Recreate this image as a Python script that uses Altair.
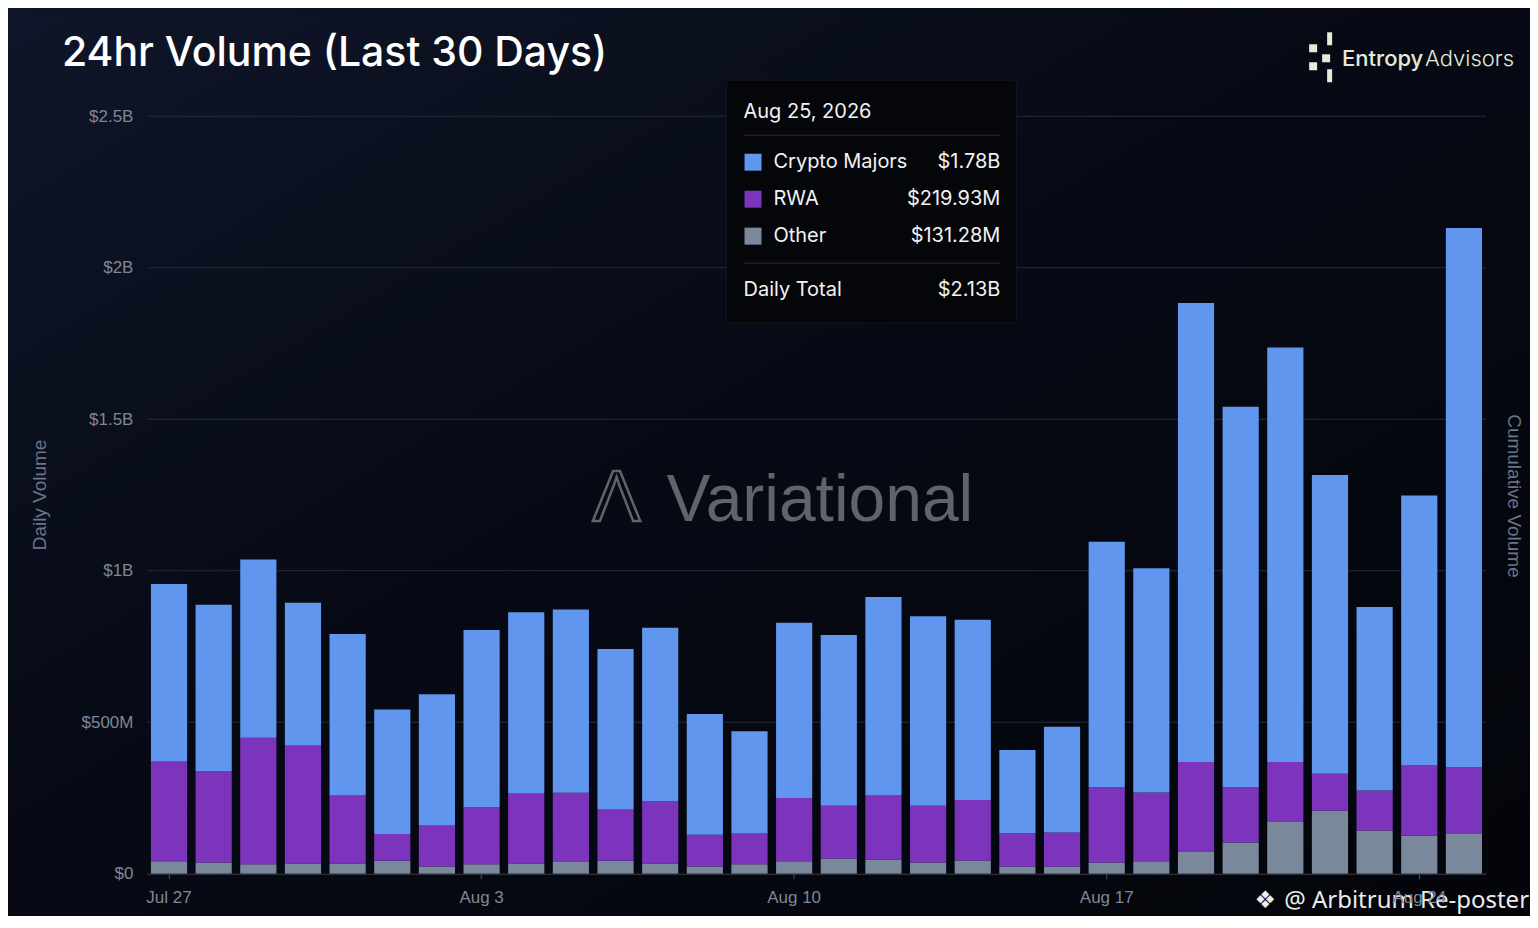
import altair as alt
import pandas as pd

# ---------------- data (values in $ billions) ----------------
dates = ["Jul 27", "Jul 28", "Jul 29", "Jul 30", "Jul 31",
         "Aug 1", "Aug 2", "Aug 3", "Aug 4", "Aug 5", "Aug 6", "Aug 7", "Aug 8", "Aug 9",
         "Aug 10", "Aug 11", "Aug 12", "Aug 13", "Aug 14", "Aug 15", "Aug 16",
         "Aug 17", "Aug 18", "Aug 19", "Aug 20", "Aug 21", "Aug 22", "Aug 23",
         "Aug 24", "Aug 25"]
year = 2026
tick_dates = ["Jul 27", "Aug 3", "Aug 10", "Aug 17", "Aug 24"]

series = ["Crypto Majors", "RWA", "Other"]
colors = ["#6196ee", "#7d34bd", "#7a889b"]

crypto_majors = [0.586, 0.550, 0.588, 0.471, 0.533, 0.411, 0.433, 0.585, 0.598, 0.605,
                 0.530, 0.573, 0.398, 0.337, 0.578, 0.564, 0.655, 0.626, 0.595, 0.274,
                 0.349, 0.811, 0.740, 1.515, 1.256, 1.368, 0.986, 0.605, 0.889, 1.78]
rwa = [0.329, 0.301, 0.418, 0.389, 0.224, 0.088, 0.135, 0.188, 0.231, 0.228,
       0.169, 0.205, 0.105, 0.102, 0.209, 0.174, 0.212, 0.187, 0.199, 0.110,
       0.112, 0.248, 0.227, 0.297, 0.182, 0.198, 0.122, 0.132, 0.234, 0.21993]
other = [0.041, 0.037, 0.031, 0.034, 0.034, 0.043, 0.024, 0.031, 0.034, 0.039,
         0.043, 0.034, 0.024, 0.031, 0.041, 0.050, 0.046, 0.037, 0.044, 0.024,
         0.024, 0.037, 0.041, 0.072, 0.103, 0.171, 0.208, 0.143, 0.125, 0.13128]

y_ticks = [0, 0.5, 1, 1.5, 2, 2.5]

rows = []
for i, d in enumerate(dates):
    for name, vals, order in (("Other", other, 0), ("RWA", rwa, 1), ("Crypto Majors", crypto_majors, 2)):
        rows.append({"date": d, "series": name, "value": vals[i], "ord": order})
df = pd.DataFrame(rows)
grid_df = pd.DataFrame({"value": y_ticks[1:]})


def money(v):
    return f"${v:.2f}B" if v >= 1 else f"${v * 1000:.2f}M"


# ---------------- layout ----------------
W, H = 1340, 758
PAD = {"left": 139, "top": 108, "right": 44, "bottom": 42}
one = pd.DataFrame({"k": [0]})
AX = "#7f8797"
yscale = alt.Scale(domain=[0, 2.5], nice=False)
yaxis = alt.Axis(values=y_ticks, title=None, zindex=1,
                 labelExpr="datum.value == 0 ? '$0' : datum.value < 1 ? '$' + format(datum.value * 1000, 'd') + 'M' : '$' + format(datum.value, '~g') + 'B'",
                 labelFont="Liberation Sans", labelFontSize=17, labelColor=AX,
                 labelPadding=14, ticks=False, tickSize=0, domain=False, grid=False)


def txt(text, x, y, size, color, align="left", baseline="middle",
        font="Inter", weight=400, angle=0, **kw):
    return alt.Chart(one).mark_text(
        text=text, align=align, baseline=baseline, font=font, fontSize=size,
        fontWeight=weight, color=color, angle=angle, **kw
    ).encode(x=alt.value(x), y=alt.value(y))


bg = alt.Chart(one).mark_rect(
    color=alt.LinearGradient(
        gradient="linear", x1=0, y1=0, x2=1, y2=1,
        stops=[alt.GradientStop(color="#0f1629", offset=0),
               alt.GradientStop(color="#070a15", offset=0.45),
               alt.GradientStop(color="#03050a", offset=1)])
).encode(x=alt.value(-PAD["left"]), x2=alt.value(W + PAD["right"]),
         y=alt.value(-PAD["top"]), y2=alt.value(H + PAD["bottom"]))

grid = alt.Chart(grid_df).mark_rule(color="#262b36", strokeWidth=1).encode(
    y=alt.Y("value:Q", scale=yscale, axis=yaxis),
    x=alt.value(0), x2=alt.value(W))

bars = alt.Chart(df).mark_bar().encode(
    x=alt.X("date:N", sort=dates,
            scale=alt.Scale(paddingInner=0.19, paddingOuter=0.09),
            axis=alt.Axis(values=tick_dates, title=None, labelAngle=0, zindex=1,
                          labelFont="Liberation Sans", labelFontSize=17,
                          labelColor=AX, labelPadding=11, tickSize=5,
                          tickColor="#4a4f5a", domainColor="#3a3f4b", grid=False)),
    y=alt.Y("value:Q", stack="zero", scale=yscale, axis=yaxis),
    color=alt.Color("series:N", scale=alt.Scale(domain=series, range=colors), legend=None),
    order=alt.Order("ord:Q", sort="ascending"),
)

# watermark
wm_color = "#606369"
wm_logo = txt("Λ", 470, 405, 72, wm_color, align="center", baseline="alphabetic",
              font="Liberation Sans", fillOpacity=0, stroke=wm_color, strokeWidth=2.5)
wm_text = txt("Variational", 520, 405, 66, wm_color, baseline="alphabetic",
              font="Liberation Sans")

# static tooltip box for the last day
last = len(dates) - 1
total_last = crypto_majors[last] + rwa[last] + other[last]
box = alt.Chart(one).mark_rect(fill="#05060a", stroke="#15171e", strokeWidth=1,
                               cornerRadius=4).encode(
    x=alt.value(580), x2=alt.value(870), y=alt.value(-36), y2=alt.value(207))
tt_parts = [box,
            txt(f"{dates[last]}, {year}", 597, -4, 20, "#f2f2f2"),
            alt.Chart(one).mark_rule(color="#2a2c33", strokeWidth=1).encode(
                x=alt.value(597), x2=alt.value(854), y=alt.value(19)),
            alt.Chart(one).mark_rule(color="#2a2c33", strokeWidth=1).encode(
                x=alt.value(597), x2=alt.value(854), y=alt.value(147))]
row_vals = [crypto_majors[last], rwa[last], other[last]]
for k, (name, col, v) in enumerate(zip(series, colors, row_vals)):
    yy = 46 + 37 * k
    tt_parts.append(alt.Chart(one).mark_square(size=289, color=col, opacity=1).encode(
        x=alt.value(606.5), y=alt.value(yy)))
    tt_parts.append(txt(name, 627, yy, 20, "#f2f2f2"))
    tt_parts.append(txt(money(v), 854, yy, 20, "#f2f2f2", align="right"))
tt_parts.append(txt("Daily Total", 597, 174, 20, "#f2f2f2"))
tt_parts.append(txt(money(total_last), 854, 174, 20, "#f2f2f2", align="right"))

# titles and branding
title = txt("24hr Volume (Last 30 Days)", -85, -50, 41, "#ffffff",
            baseline="alphabetic", weight=500)
y_title = txt("Daily Volume", -107, 379, 19, "#6c7585", align="center",
              font="Liberation Sans", angle=270)
y2_title = txt("Cumulative Volume", 1368, 380, 19, "#6c7585", align="center",
               font="Liberation Sans", angle=90)
logo_col = "#e8ead9"
logo_entropy = txt("Entropy", 1196, -50, 22, logo_col, baseline="alphabetic", weight=500)
logo_adv = txt("Advisors", 1279, -50, 22, logo_col, baseline="alphabetic", weight=300)
icon = [
    alt.Chart(one).mark_square(size=64, color=logo_col, opacity=1).encode(
        x=alt.value(1167), y=alt.value(-68)),
    alt.Chart(one).mark_square(size=64, color=logo_col, opacity=1).encode(
        x=alt.value(1167), y=alt.value(-50)),
    alt.Chart(one).mark_square(size=64, color=logo_col, opacity=1).encode(
        x=alt.value(1180), y=alt.value(-58)),
    alt.Chart(one).mark_rect(color=logo_col).encode(
        x=alt.value(1181), x2=alt.value(1186), y=alt.value(-84), y2=alt.value(-71)),
    alt.Chart(one).mark_rect(color=logo_col).encode(
        x=alt.value(1181), x2=alt.value(1186), y=alt.value(-47), y2=alt.value(-34)),
]
repost_icon = txt("❖", 1119, 785, 24, "#ececec", align="center", font="DejaVu Sans")
repost = txt("@ Arbitrum Re-poster", 1138, 785, 24, "#ececec", font="Noto Sans")

chart = alt.layer(
    bg, grid, bars, wm_logo, wm_text, *tt_parts, title, y_title, y2_title,
    logo_entropy, logo_adv, *icon, repost_icon, repost
).properties(
    width=W, height=H, padding=PAD, autosize=alt.AutoSizeParams(type="none")
).configure_view(stroke=None).configure(background="#060911")

chart.save("out.html", embed_options={"renderer": "svg", "actions": False})
